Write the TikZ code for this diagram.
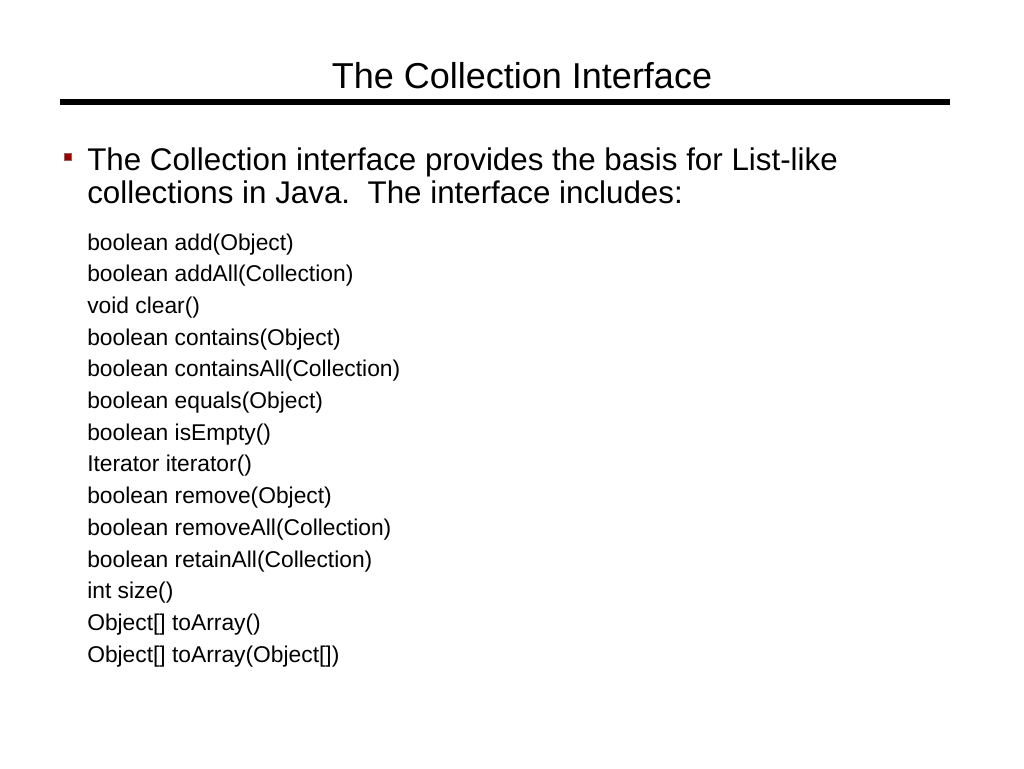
\documentclass[tikz,border=0pt]{standalone}
\usepackage{fontspec}
\setmainfont{Liberation Sans}
\begin{document}
\begin{tikzpicture}[x=0.75pt,y=-0.75pt,
  meth/.style={anchor=base west,inner sep=0,font=\fontsize{17.1}{20}\selectfont},
  body/.style={anchor=base west,inner sep=0,font=\fontsize{23.5}{28}\selectfont}]
\useasboundingbox (0,0) rectangle (1024,768);
\node[anchor=base,inner sep=0,font=\fontsize{27}{32}\selectfont] (title) at (522,88) {The Collection Interface};
\draw[line width=3.8pt] (60,102) -- (950,102);
\node[draw=gray!70!red,fill=red!60!black,line width=0.4pt,minimum size=5.3pt,inner sep=0] (bul) at (67.5,157) {};
\node[body] (l1) at (87,170) {The Collection interface provides the basis for List-like};
\node[body] (l2) at (87,203) {collections in Java.\ \ The interface includes:};
\foreach \t [count=\i] in {boolean add(Object),boolean addAll(Collection),void clear(),boolean contains(Object),boolean containsAll(Collection),boolean equals(Object),boolean isEmpty(),Iterator iterator(),boolean remove(Object),boolean removeAll(Collection),boolean retainAll(Collection),int size(),Object[] toArray(),{Object[] toArray(Object[])}}
  \node[meth] (m\i) at (87,{250+(\i-1)*31.7}) {\t};
\end{tikzpicture}
\end{document}
